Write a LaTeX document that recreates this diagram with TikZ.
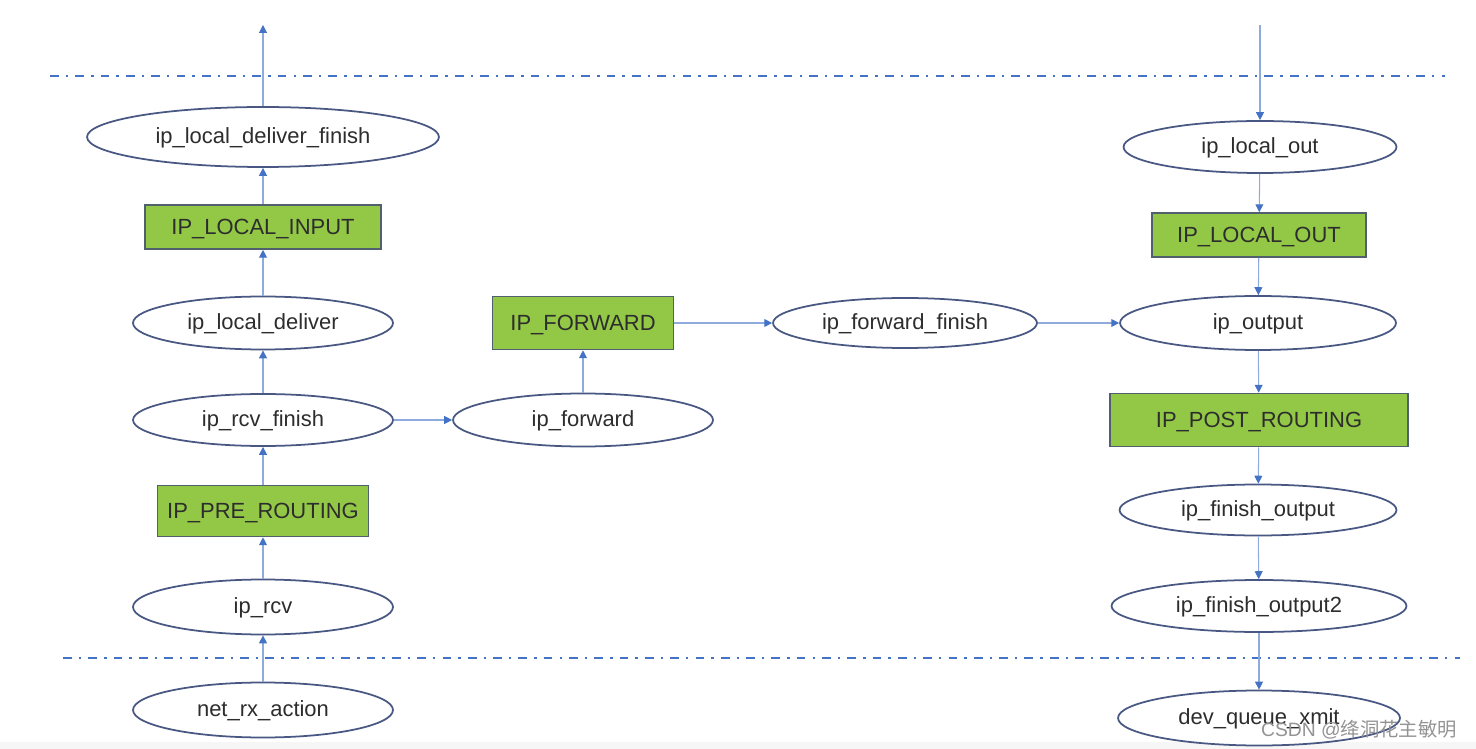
\documentclass[tikz,border=0pt]{standalone}
\usepackage{fontspec}
\setmainfont{Liberation Sans}
\newfontfamily\cjk{Noto Sans CJK SC}
\usetikzlibrary{arrows.meta,shapes.geometric}
\definecolor{edgeblue}{RGB}{143,170,220}
\definecolor{tipblue}{RGB}{68,114,196}
\definecolor{rimblue}{RGB}{72,88,130}
\definecolor{hookgreen}{RGB}{146,200,70}
\definecolor{hookrim}{RGB}{80,96,110}
\definecolor{txt}{RGB}{45,45,45}
\tikzset{
  func/.style={ellipse,draw=rimblue,line width=1pt,fill=white,text=txt,
    font=\fontsize{12.5}{14}\selectfont,inner sep=0pt,text height=9pt,text depth=2pt},
  hook/.style={rectangle,draw=hookrim,line width=0.9pt,fill=hookgreen,text=txt,
    font=\fontsize{12.5}{14}\selectfont,inner sep=0pt,text height=9pt,text depth=1pt},
  flow/.style={draw=edgeblue,line width=0.6pt,
    -{Triangle[length=4.5pt,width=4.5pt,color=tipblue]}},
  layer/.style={draw=tipblue,line width=1.2pt,
    dash pattern=on 5pt off 4pt on 1.4pt off 4pt}
}
\begin{document}
\begin{tikzpicture}[x=0.02cm,y=-0.02cm]
  \useasboundingbox (0,0) rectangle (1476,749);
  \fill[gray!7] (0,742) rectangle (1476,749);
  % layer borders
  \draw[layer] (50,76) -- (1445,76);
  \draw[layer] (63,658) -- (1460,658);
  \coordinate (up) at (263,25);
  \coordinate (down) at (1260,25);
  \path
    (263,137) node[func,minimum width=7.04cm,minimum height=1.2cm] (ldf){ip\_local\_deliver\_finish}
    (263,227) node[hook,minimum width=4.72cm,minimum height=0.88cm] (lin){IP\_LOCAL\_INPUT}
    (263,323) node[func,minimum width=5.2cm,minimum height=1.06cm] (ld){ip\_local\_deliver}
    (263,420) node[func,minimum width=5.2cm,minimum height=1.04cm] (rf){ip\_rcv\_finish}
    (263,511) node[hook,minimum width=4.22cm,minimum height=1.02cm] (pre){IP\_PRE\_ROUTING}
    (263,607) node[func,minimum width=5.2cm,minimum height=1.1cm] (rcv){ip\_rcv}
    (263,710) node[func,minimum width=5.2cm,minimum height=1.1cm] (rx){net\_rx\_action}
    (583,420) node[func,minimum width=5.2cm,minimum height=1.06cm] (fw){ip\_forward}
    (583,323) node[hook,minimum width=3.62cm,minimum height=1.06cm] (fwd){IP\_FORWARD}
    (905,323) node[func,minimum width=5.28cm,minimum height=1.0cm] (ff){ip\_forward\_finish}
    (1260,147) node[func,minimum width=5.46cm,minimum height=1.04cm] (lo){ip\_local\_out}
    (1259,235) node[hook,minimum width=4.28cm,minimum height=0.88cm] (lout){IP\_LOCAL\_OUT}
    (1258,323) node[func,minimum width=5.52cm,minimum height=1.08cm] (out){ip\_output}
    (1259,420) node[hook,minimum width=5.96cm,minimum height=1.06cm] (post){IP\_POST\_ROUTING}
    (1258,510) node[func,minimum width=5.54cm,minimum height=1.02cm] (fo){ip\_finish\_output}
    (1259,606) node[func,minimum width=5.9cm,minimum height=1.04cm] (fo2){ip\_finish\_output2}
    (1259,718) node[func,minimum width=5.64cm,minimum height=1.1cm] (xmit){dev\_queue\_xmit};
  \begin{scope}[flow]
    \draw (rx) to (rcv);
    \draw (rcv) to (pre);
    \draw (pre) to (rf);
    \draw (rf) to (ld);
    \draw (ld) to (lin);
    \draw (lin) to (ldf);
    \draw (ldf) to (up);
    \draw (rf) to (fw);
    \draw (fw) to (fwd);
    \draw (fwd) to (ff);
    \draw (ff) to (out);
    \draw (down) to (lo);
    \draw (lo) to (lout);
    \draw (lout) to (out);
    \draw (out) to (post);
    \draw (post) to (fo);
    \draw (fo) to (fo2);
    \draw (fo2) to (xmit);
  \end{scope}
  \node[anchor=east,text=gray!85,font=\fontsize{11}{12}\selectfont] (mark) at (1463,730) {CSDN @{\cjk 绛洞花主敏明}};
\end{tikzpicture}
\end{document}
